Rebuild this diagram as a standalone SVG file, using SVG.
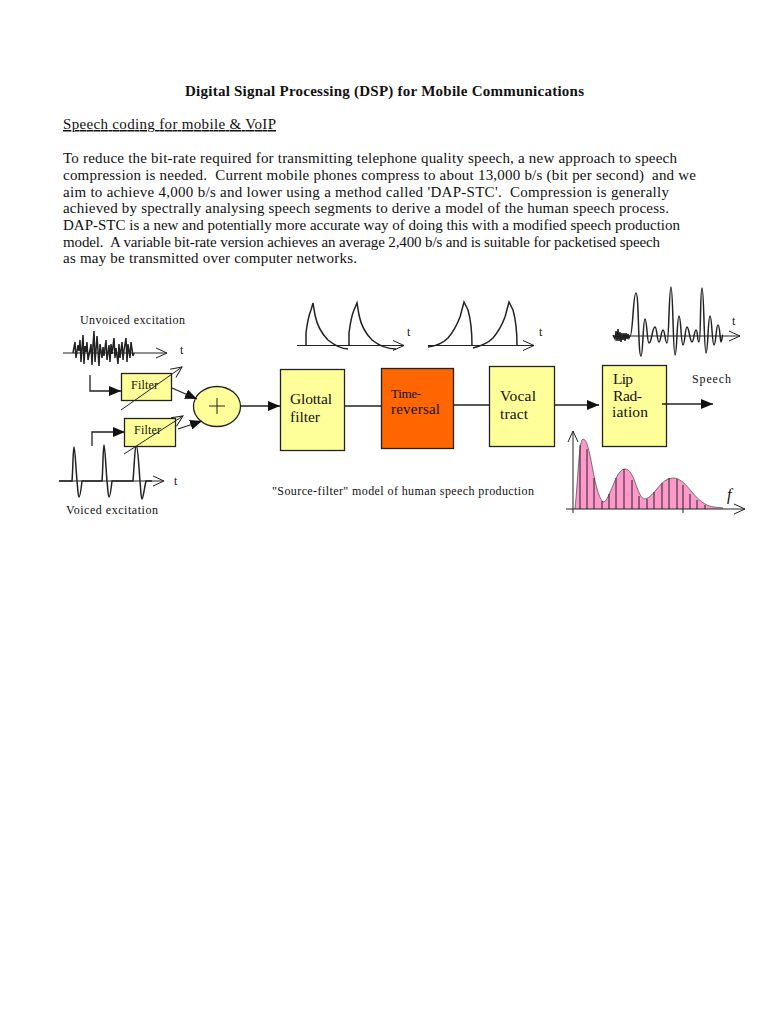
<svg xmlns="http://www.w3.org/2000/svg" width="768" height="1024" viewBox="0 0 768 1024">
<style>
text{font-family:"Liberation Serif","Times New Roman",serif;fill:#111;white-space:pre}
.p{font-size:15px}
.s{font-size:12px}
.b{font-size:15.500px}
.box{fill:#ffff99;stroke:#222;stroke-width:1.3}
.ln{fill:none;stroke:#222;stroke-width:1.3}
.w{fill:none;stroke:#222;stroke-width:1.5}
.o{fill:none;stroke:#222;stroke-width:1}
</style>
<defs>
<marker id="a" markerUnits="userSpaceOnUse" markerWidth="13" markerHeight="10" refX="12" refY="5" orient="auto"><path d="M0 0L12 5L0 10Z" fill="#111"/></marker>
<marker id="v" markerUnits="userSpaceOnUse" markerWidth="14" markerHeight="12" refX="12" refY="6" orient="auto"><path d="M1 1L12 6L1 11" fill="none" stroke="#222" stroke-width="1"/></marker>
</defs>
<rect width="768" height="1024" fill="#fff"/>
<g id="document-text">
<text x="185" y="96" font-size="15" font-weight="bold" textLength="399" lengthAdjust="spacing">Digital Signal Processing (DSP) for Mobile Communications</text>
<text class="p" x="63" y="129" textLength="213" lengthAdjust="spacing" text-decoration="underline">Speech coding for mobile &amp; VoIP</text>
<text class="p" x="63" y="163" textLength="614" lengthAdjust="spacing">To reduce the bit-rate required for transmitting telephone quality speech, a new approach to speech</text>
<text class="p" x="63" y="180" textLength="633" lengthAdjust="spacing">compression is needed.  Current mobile phones compress to about 13,000 b/s (bit per second)  and we</text>
<text class="p" x="63" y="197" textLength="606" lengthAdjust="spacing">aim to achieve 4,000 b/s and lower using a method called 'DAP-STC'.  Compression is generally</text>
<text class="p" x="63" y="213" textLength="606" lengthAdjust="spacing">achieved by spectrally analysing speech segments to derive a model of the human speech process.</text>
<text class="p" x="63" y="230" textLength="617" lengthAdjust="spacing">DAP-STC is a new and potentially more accurate way of doing this with a modified speech production</text>
<text class="p" x="63" y="247" textLength="597" lengthAdjust="spacing">model.  A variable bit-rate version achieves an average 2,400 b/s and is suitable for packetised speech</text>
<text class="p" x="63" y="263" textLength="294" lengthAdjust="spacing">as may be transmitted over computer networks.</text>
<text class="s" x="80" y="324" textLength="105" lengthAdjust="spacing">Unvoiced excitation</text>
<text class="s" x="66" y="514" textLength="92" lengthAdjust="spacing">Voiced excitation</text>
<text class="s" x="180" y="354">t</text>
<text class="s" x="174" y="485">t</text>
<text class="s" x="407" y="336">t</text>
<text class="s" x="539" y="336">t</text>
<text class="s" x="732" y="325">t</text>
<text class="s" x="272" y="495" textLength="262" lengthAdjust="spacing">"Source-filter" model of human speech production</text>
<text class="s" x="692" y="383" textLength="39" lengthAdjust="spacing">Speech</text>
<text x="727" y="500" font-size="16" font-style="italic">f</text>
</g>
<g id="waveforms">
<path class="o" d="M63 353H167" marker-end="url(#v)"/>
<path class="w" d="M73 353L75 342L76 358L78 345L79 351L80 340L81 362L83 335L84 364L85 346L86 352L87 342L88 360L90 350L91 344L92 365L93 345L94 331L95 362L96 350L97 336L99 366L100 344L102 358L103 347L104 356L106 340L107 360L109 345L110 362L111 344L112 354L114 338L115 358L116 348L118 364L119 344L120 358L122 342L123 360L124 350L126 338L127 362L128 344L130 358L131 342L133 356L134 353"/>
<path class="o" d="M59 481H164" marker-end="url(#v)"/>
<path class="w" d="M59 481H72C73 470 73 447 74 447C75 447 76 470 77 481C78 490 78 497 79 497C80 497 81 490 82 481H102C103 470 103 445 104 445C105 445 106 470 107 481C108 490 108 497 109 497C110 497 111 490 112 481H133C134 470 135 445 136 445C138 445 139 470 140 481C141 492 141 499 142 499C143 499 144 490 146 481H152"/>
<path class="o" d="M297 345.500H404" marker-end="url(#v)"/>
<path class="w" d="M306 346V333C307 325 308 317 311 310L313 303L315 315C317 325 320 332 328 340C333 344 340 349 348 349"/>
<path class="w" d="M349 346V333C350 325 351 317 354 310L357 303L359 315C361 325 364 332 372 340C377 344 386 349 396 349"/>
<path class="o" d="M428 345.500H534" marker-end="url(#v)"/>
<path class="w" d="M428 347C436 346 443 343 448 338C453 332 457 325 460 317L464 302L468 310C470 317 472 327 472 346"/>
<path class="w" d="M473 348C481 346 488 343 493 338C498 332 502 325 505 317L509 302L513 310C515 317 517 327 517 346"/>
<path class="o" d="M613 336H740" marker-end="url(#v)"/>
<path class="w" stroke-width="1.700" d="M613 335L615 339L616 331L617 341L618 329L619 341L620 332L621 342L622 333L623 340L624 333L625 341L626 333L627 339L628 334L629 338L630 336C633 336 633 293 636 293C639 293 638 356 641 356C643 356 643 319 645 319C647 319 647 343 649 343C652 343 652 327 655 327C657 327 657 342 659 342C661 342 661 330 663 330C665 330 665 343 667 343C669 343 669 287 671 287C673 287 673 355 675 355C677 355 677 316 679 316C681 316 681 345 683 345C685 345 685 327 687 327C689 327 690 342 692 342C694 342 694 330 696 330C698 330 697 342 699 342C701 342 700 288 702 288C704 288 704 353 706 353C708 353 708 316 710 316C712 316 712 345 714 345C716 345 716 325 718 325C720 325 720 342 721 342C722 342 722 335 723 335"/>
<path d="M575 509C578 480 579 439 583 439C591 439 593 492 603 502C610 502 615 469 625 469C635 469 637 499 645 499C655 497 660 478 673 478C686 478 692 498 707 505C713 508 720 507 723 508V509Z" fill="#ff99cc"/>
<path d="M575 509C578 480 579 439 583 439C591 439 593 492 603 502C610 502 615 469 625 469C635 469 637 499 645 499C655 497 660 478 673 478C686 478 692 498 707 505C713 508 720 507 723 508" fill="none" stroke="#555" stroke-width=".8"/>
<path fill="none" stroke="#222" stroke-width="1" d="M580 509V445M587 509V449M594 509V478M602 509V501M609 509V494M616 509V478M624 509V469M632 509V480M639 509V496M647 509V499M654 509V492M662 509V483M669 509V478M677 509V479M683 513V485M690 509V494M697 509V500M705 509V505"/>
<path class="o" d="M573 513V431" marker-end="url(#v)"/>
<path class="o" d="M566 509H745" marker-end="url(#v)"/>
</g>
<g id="filter-1"><rect class="box" x="121.500" y="373.500" width="50" height="27"/><text class="s" x="131" y="389" textLength="27" lengthAdjust="spacing">Filter</text><path class="o" d="M121 410L182 367" marker-end="url(#v)"/></g>
<g id="filter-2"><rect class="box" x="124.500" y="418.500" width="51" height="28"/><text class="s" x="134" y="434" textLength="27" lengthAdjust="spacing">Filter</text><path class="o" d="M124 454L183 416" marker-end="url(#v)"/></g>
<g id="summer"><ellipse cx="217" cy="406.500" rx="23.500" ry="20" fill="#ffff99" stroke="#222" stroke-width="1.3"/><path fill="none" stroke="#222" d="M209 406H225M217 398V414"/></g>
<g id="glottal-filter"><rect class="box" x="280.500" y="369.500" width="64" height="81"/><text class="b" x="290" y="404" textLength="42" lengthAdjust="spacing">Glottal</text><text class="b" x="290" y="422" textLength="30" lengthAdjust="spacing">filter</text></g>
<g id="time-reversal"><rect x="381.500" y="368.500" width="72" height="80" fill="#ff6600" stroke="#222" stroke-width="1.3"/><text font-size="13" x="391" y="398" textLength="30" lengthAdjust="spacing">Time-</text><text font-size="15" x="391" y="414" textLength="49" lengthAdjust="spacing">reversal</text></g>
<g id="vocal-tract"><rect class="box" x="489.500" y="366.500" width="65" height="80"/><text class="b" x="500" y="401" textLength="36" lengthAdjust="spacing">Vocal</text><text class="b" x="500" y="419" textLength="28" lengthAdjust="spacing">tract</text></g>
<g id="lip-radiation"><rect class="box" x="602.500" y="365.500" width="64" height="81"/><text class="b" x="613" y="384" textLength="20" lengthAdjust="spacing">Lip</text><text class="b" x="613" y="401" textLength="29" lengthAdjust="spacing">Rad-</text><text class="b" x="612" y="417" textLength="36" lengthAdjust="spacing">iation</text></g>
<g id="connectors">
<path class="ln" d="M90 375V391H121" marker-end="url(#a)"/>
<path class="ln" d="M92 446V432H125" marker-end="url(#a)"/>
<path class="ln" d="M172 388L197 399" marker-end="url(#a)"/>
<path class="ln" d="M178 429L202 421" marker-end="url(#a)"/>
<path class="ln" d="M240 406H280" marker-end="url(#a)"/>
<path class="ln" d="M344 406H381"/>
<path class="ln" d="M453 405H489"/>
<path class="ln" d="M554 405H599" marker-end="url(#a)"/>
<path class="ln" d="M662 404H713" marker-end="url(#a)"/>
</g>
</svg>
